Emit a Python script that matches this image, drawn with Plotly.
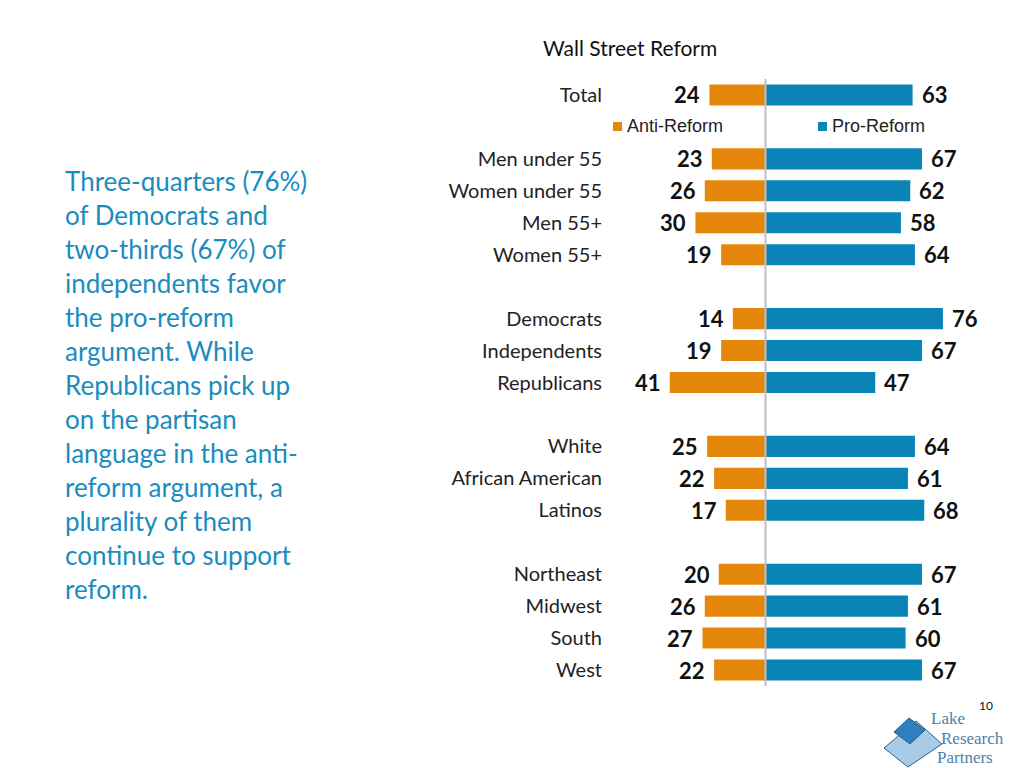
import plotly.graph_objects as go

# ---- data ----
title = "Wall Street Reform"
categories = ["Total", None, "Men under 55", "Women under 55", "Men 55+", "Women 55+", None,
              "Democrats", "Independents", "Republicans", None,
              "White", "African American", "Latinos", None,
              "Northeast", "Midwest", "South", "West"]
anti_reform = [24, None, 23, 26, 30, 19, None, 14, 19, 41, None, 25, 22, 17, None, 20, 26, 27, 22]
pro_reform = [63, None, 67, 62, 58, 64, None, 76, 67, 47, None, 64, 61, 68, None, 67, 61, 60, 67]
series_names = ["Anti-Reform", "Pro-Reform"]
side_text = ["Three-quarters (76%)", "of Democrats and", "two-thirds (67%) of",
             "independents favor", "the pro-reform", "argument. While",
             "Republicans pick up", "on the partisan", "language in the anti-",
             "reform argument, a", "plurality of them", "continue to support", "reform."]
page_number = "10"
logo_words = ["Lake", "Research", "Partners"]

ORANGE = "#E4870A"
BLUE = "#0A84B6"
TEXT_BLUE = "#1A8CBE"
FONT = "Lato"

# page body has an 8px margin: figure is 1016x760 placed at (8,8)
OFF = 8
W, H = 1024 - OFF, 768 - OFF


def px(x):
    return (x - OFF) / W


def py(y):
    return 1 - (y - OFF) / H


idx = list(range(len(categories)))
ys = [i for i in idx if categories[i] is not None]

fig = go.Figure()
fig.add_trace(go.Bar(
    y=ys, x=[-anti_reform[i] for i in ys], orientation="h",
    marker=dict(color=ORANGE, line=dict(width=0)), name=series_names[0], width=0.66,
    showlegend=False, hoverinfo="skip"))
fig.add_trace(go.Bar(
    y=ys, x=[pro_reform[i] for i in ys], orientation="h",
    marker=dict(color=BLUE, line=dict(width=0)), name=series_names[1], width=0.66,
    showlegend=False, hoverinfo="skip"))

# value labels
for i in ys:
    fig.add_annotation(x=-anti_reform[i], y=i, text=f"<b>{anti_reform[i]}</b>", showarrow=False,
                       xanchor="right", xshift=-7, font=dict(family=FONT, size=22, color="#111111"))
    fig.add_annotation(x=pro_reform[i], y=i, text=f"<b>{pro_reform[i]}</b>", showarrow=False,
                       xanchor="left", xshift=7, font=dict(family=FONT, size=22, color="#111111"))

# center line
fig.add_shape(type="line", x0=0, x1=0, xref="x", y0=0, y1=1, yref="y domain",
              line=dict(color="#BFBFBF", width=2), layer="above")

# legend (manual, positioned like reference)
legend_items = [(series_names[0], ORANGE, 613), (series_names[1], BLUE, 818)]
for name, col, lx in legend_items:
    fig.add_shape(type="rect", xref="paper", yref="paper",
                  x0=px(lx), x1=px(lx + 9), y0=py(131), y1=py(122),
                  fillcolor=col, line=dict(width=0))
    fig.add_annotation(xref="paper", yref="paper", x=px(lx + 12), y=py(126),
                       text=name, showarrow=False, xanchor="left", yanchor="middle",
                       font=dict(family="Liberation Sans", size=18, color="#222222"))

# title
fig.add_annotation(xref="paper", yref="paper", x=px(630), y=py(48), text=title,
                   showarrow=False, xanchor="center", yanchor="middle",
                   font=dict(family=FONT, size=21, color="#111111"))

# side text
for k, line in enumerate(side_text):
    fig.add_annotation(xref="paper", yref="paper", x=px(63), y=py(181 + k * 34),
                       text=line, showarrow=False, xanchor="left", yanchor="middle",
                       font=dict(family=FONT, size=26, color=TEXT_BLUE))

# page number
fig.add_annotation(xref="paper", yref="paper", x=px(986), y=py(705), text=page_number,
                   showarrow=False, xanchor="center", yanchor="middle",
                   font=dict(family=FONT, size=12, color="#111111"))

# logo approximation
fig.add_shape(type="path", xref="paper", yref="paper",
              path=f"M {px(884)} {py(748)} L {px(916)} {py(721)} L {px(942)} {py(744)} "
                   f"L {px(908)} {py(767)} Z",
              fillcolor="#A9CBE6", line=dict(color="#2E5F8A", width=1))
fig.add_shape(type="path", xref="paper", yref="paper",
              path=f"M {px(894)} {py(732)} L {px(909)} {py(718)} L {px(925)} {py(730)} "
                   f"L {px(910)} {py(744)} Z",
              fillcolor="#2F7FBF", line=dict(color="#1F5F90", width=1))
for txt, x0, y0 in zip(logo_words, [929, 939, 935], [718, 738, 757]):
    fig.add_annotation(xref="paper", yref="paper", x=px(x0), y=py(y0), text=txt,
                       showarrow=False, xanchor="left", yanchor="middle",
                       font=dict(family="Liberation Serif", size=17, color="#4F7EA8"))

x_left_px, x_right_px, zero_px, scale = 615, 1005, 765.5, 2.335
fig.update_layout(
    width=W, height=H, margin=dict(l=0, r=0, t=0, b=0),
    paper_bgcolor="white", plot_bgcolor="white", barmode="overlay", showlegend=False,
    xaxis=dict(domain=[px(x_left_px), px(x_right_px)],
               range=[(x_left_px - zero_px) / scale, (x_right_px - zero_px) / scale],
               showgrid=False, zeroline=False, showticklabels=False, ticks="", fixedrange=True),
    yaxis=dict(domain=[py(686), py(79)], range=[len(categories) - 0.5, -0.5],
               tickvals=ys, ticktext=[categories[i] for i in ys], showgrid=False, zeroline=False,
               ticks="", ticklabelstandoff=12,
               tickfont=dict(family=FONT, size=20, color="#222222")),
)
fig.write_html("out.html")
